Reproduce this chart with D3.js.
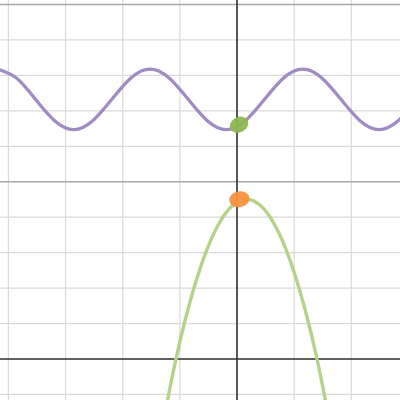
<!DOCTYPE html>
<html>
<head>
<meta charset="utf-8">
<script src="https://cdn.jsdelivr.net/npm/d3@7"></script>
<style>
  html, body { margin: 0; padding: 0; background: #fff; }
  svg { display: block; }
</style>
</head>
<body>
<svg id="chart" width="400" height="400"></svg>
<script>
// ---- data (graph units) ----
const xGridTicks = [-4, -3, -2, -1, 1, 2];
const yMinorTicks = [-1, 1, 2, 3, 4, 6, 7, 8, 9];
const yMajorTicks = [5, 10];

const waveX = [-4.194, -3.860, -3.526, -3.192, -2.858, -2.524, -2.190, -1.856, -1.522, -1.188, -0.854, -0.520, -0.186, 0.148, 0.482, 0.816, 1.150, 1.484, 1.818, 2.152, 2.486, 2.820, 3.154];
const waveY = [8.179, 7.929, 7.326, 6.723, 6.473, 6.723, 7.326, 7.929, 8.179, 7.929, 7.326, 6.723, 6.473, 6.723, 7.326, 7.929, 8.179, 7.929, 7.326, 6.723, 6.473, 6.723, 7.326];

const parabX = [-1.334, -1.084, -0.834, -0.584, -0.334, -0.084, 0.166, 0.416, 0.666, 0.916, 1.166, 1.416, 1.666];
const parabY = [-2.155, -0.120, 1.545, 2.840, 3.765, 4.320, 4.505, 4.320, 3.765, 2.840, 1.545, -0.120, -2.155];

const pointNames = ["green", "orange"];
const pointX = [0.035, 0.040];
const pointY = [6.609, 4.505];

// ---- drawing ----
const W = 400, H = 400;
const svg = d3.select("#chart");
const x = d3.scaleLinear().domain([-4.147, 2.852]).range([0, W]);
const y = d3.scaleLinear().domain([-1.157, 10.127]).range([H, 0]);

const grid = svg.append("g");
grid.selectAll("line.vx").data(xGridTicks).join("line")
  .attr("x1", d => x(d)).attr("x2", d => x(d)).attr("y1", 0).attr("y2", H)
  .attr("stroke", "#dadada").attr("stroke-width", 1.2);
grid.selectAll("line.hmin").data(yMinorTicks).join("line")
  .attr("x1", 0).attr("x2", W).attr("y1", d => y(d)).attr("y2", d => y(d))
  .attr("stroke", "#dadada").attr("stroke-width", 1.2);
grid.selectAll("line.hmaj").data(yMajorTicks).join("line")
  .attr("x1", 0).attr("x2", W).attr("y1", d => y(d)).attr("y2", d => y(d))
  .attr("stroke", "#a9a9a9").attr("stroke-width", 1.3);

// axes
svg.append("line").attr("x1", 0).attr("x2", W).attr("y1", y(0)).attr("y2", y(0))
  .attr("stroke", "#2e2e2e").attr("stroke-width", 1.6);
svg.append("line").attr("x1", x(0)).attr("x2", x(0)).attr("y1", 0).attr("y2", H)
  .attr("stroke", "#2e2e2e").attr("stroke-width", 1.6);

const line = d3.line().x(d => x(d[0])).y(d => y(d[1])).curve(d3.curveNatural);

svg.append("path")
  .datum(parabX.map((v, i) => [v, parabY[i]]))
  .attr("d", line).attr("fill", "none")
  .attr("stroke", "#b6d18a").attr("stroke-width", 3.4).attr("stroke-linecap", "round");

svg.append("path")
  .datum(waveX.map((v, i) => [v, waveY[i]]))
  .attr("d", line).attr("fill", "none")
  .attr("stroke", "#a08bc3").attr("stroke-width", 3.3).attr("stroke-linecap", "round");

const pointFill = { green: "#8db74e", orange: "#f6923e" };
const pointRot = { green: -28, orange: -10 };
const pointR = { green: [9.8, 7.6], orange: [10.2, 7.9] };
svg.selectAll("ellipse.pt").data(pointNames).join("ellipse")
  .attr("cx", 0).attr("cy", 0)
  .attr("rx", d => pointR[d][0]).attr("ry", d => pointR[d][1])
  .attr("transform", (d, i) => `translate(${x(pointX[i])},${y(pointY[i])}) rotate(${pointRot[d]})`)
  .attr("fill", d => pointFill[d]).attr("fill-opacity", 0.95);
</script>
</body>
</html>
